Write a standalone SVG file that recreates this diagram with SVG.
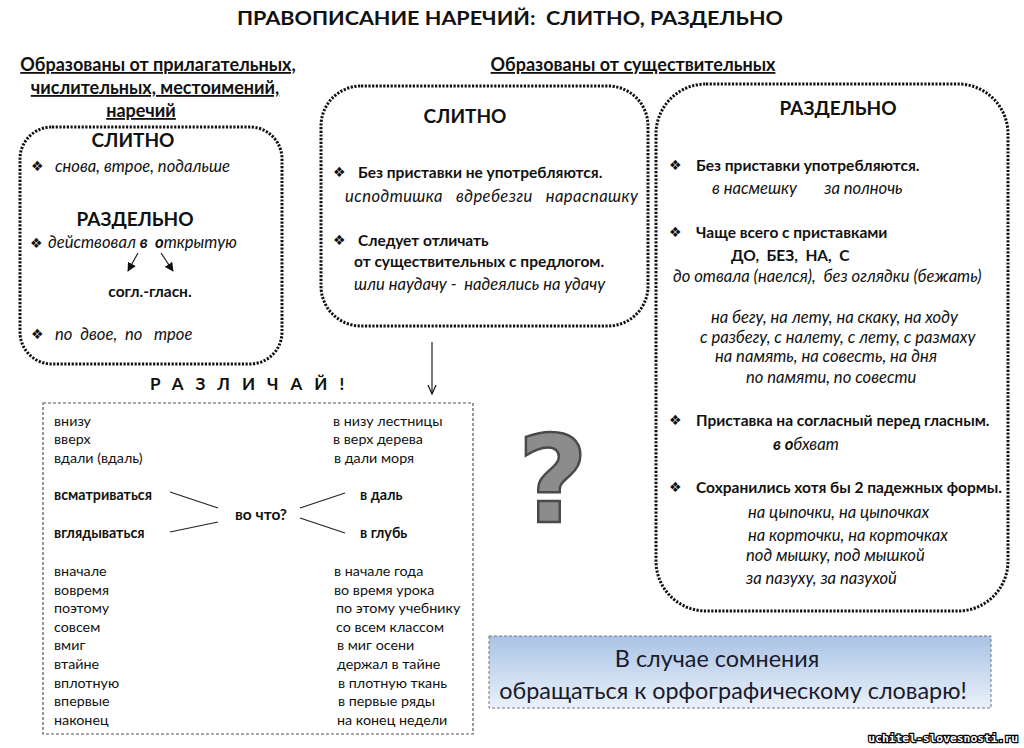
<svg xmlns="http://www.w3.org/2000/svg" width="1024" height="748" viewBox="0 0 1024 748" xml:space="preserve">
<defs>
<style>
text{font-family:Lato,"Noto Sans","DejaVu Sans",sans-serif;fill:#111;white-space:pre}
.b{font-weight:bold}
.i{font-style:italic}
.h{font-size:18px;font-weight:bold;text-decoration:underline}
.t{font-size:19px;font-weight:bold}
.r{font-size:15.5px;font-weight:bold}
.e{font-size:16.6px;font-style:italic}
.s{font-size:14.3px}
.bul{font-family:"DejaVu Sans",sans-serif;font-size:14px}
.dot{fill:none;stroke:#111;stroke-width:3;stroke-dasharray:2.2 1.5}
.ln{stroke:#222;stroke-width:1.2;fill:none}
</style>
<linearGradient id="bg" x1="0" y1="0" x2="0" y2="1">
<stop offset="0" stop-color="#a9c3e6"/>
<stop offset="1" stop-color="#eaf1fa"/>
</linearGradient>
<marker id="ah" viewBox="0 0 10 10" refX="9" refY="5" markerWidth="9" markerHeight="9" orient="auto" markerUnits="userSpaceOnUse">
<path d="M0,0 L10,5 L0,10 z" fill="#111"/>
</marker>
<marker id="oa" viewBox="0 0 10 10" refX="9" refY="5" markerWidth="10" markerHeight="10" orient="auto" markerUnits="userSpaceOnUse">
<path d="M0,1 L9,5 L0,9" fill="none" stroke="#111" stroke-width="1.2"/>
</marker>
</defs>
<rect width="1024" height="748" fill="#fff"/>

<g id="title">
<text x="510" y="25" text-anchor="middle" class="t" textLength="546" lengthAdjust="spacingAndGlyphs">ПРАВОПИСАНИЕ НАРЕЧИЙ:  СЛИТНО, РАЗДЕЛЬНО</text>
</g>

<g id="header-left">
<text x="158" y="71" text-anchor="middle" class="h">Образованы от прилагательных,</text>
<text x="155" y="94" text-anchor="middle" class="h">числительных, местоимений,</text>
<text x="141" y="117" text-anchor="middle" class="h">наречий</text>
</g>

<g id="header-mid">
<text x="633" y="71" text-anchor="middle" class="h">Образованы от существительных</text>
</g>

<g id="box-left">
<rect x="20" y="127" width="262" height="237" rx="32" class="dot"/>
<text x="133" y="147" text-anchor="middle" class="t">СЛИТНО</text>
<text x="31" y="171" class="bul">❖</text>
<text x="55" y="172" class="e">снова, втрое, подальше</text>
<text x="135" y="226" text-anchor="middle" class="t">РАЗДЕЛЬНО</text>
<text x="30" y="248" class="bul">❖</text>
<text x="48" y="248" class="e">действовал <tspan class="b">в  о</tspan>ткрытую</text>
<text x="150" y="297" text-anchor="middle" class="r">согл.-гласн.</text>
<text x="31" y="339" class="bul">❖</text>
<text x="55" y="340" class="e">по  двое,  по   трое</text>
</g>

<g id="box-mid">
<rect x="321" y="86" width="327" height="240" rx="40" class="dot"/>
<text x="465" y="123" text-anchor="middle" class="t">СЛИТНО</text>
<text x="333" y="177" class="bul">❖</text>
<text x="358" y="178" class="r">Без приставки не употребляются.</text>
<text x="345" y="202" class="e" textLength="293">исподтишка   вдребезги   нараспашку</text>
<text x="333" y="245" class="bul">❖</text>
<text x="358" y="246" class="r">Следует отличать</text>
<text x="354" y="267" class="r">от существительных с предлогом.</text>
<text x="354" y="290" class="e">шли наудачу -  надеялись на удачу</text>
</g>

<g id="box-right">
<rect x="656" y="84" width="352" height="527" rx="50" class="dot"/>
<text x="838" y="115" text-anchor="middle" class="t">РАЗДЕЛЬНО</text>
<text x="669" y="170" class="bul">❖</text>
<text x="696" y="171" class="r">Без приставки употребляются.</text>
<text x="712" y="194" class="e">в насмешку       за полночь</text>
<text x="669" y="237" class="bul">❖</text>
<text x="696" y="238" class="r">Чаще всего с приставками</text>
<text x="731" y="261" class="r">ДО,  БЕЗ,  НА,  С</text>
<text x="673" y="282" class="e">до отвала (наелся),  без оглядки (бежать)</text>
<text x="711" y="323" class="e">на бегу, на лету, на скаку, на ходу</text>
<text x="700" y="343" class="e">с разбегу, с налету, с лету, с размаху</text>
<text x="715" y="362" class="e">на память, на совесть, на дня</text>
<text x="746" y="383" class="e">по памяти, по совести</text>
<text x="669" y="425" class="bul">❖</text>
<text x="696" y="426" class="r">Приставка на согласный перед гласным.</text>
<text x="773" y="450" class="e"><tspan class="b">в о</tspan>бхват</text>
<text x="669" y="492" class="bul">❖</text>
<text x="696" y="493" class="r">Сохранились хотя бы 2 падежных формы.</text>
<text x="748" y="518" class="e">на цыпочки, на цыпочках</text>
<text x="748" y="541" class="e">на корточки, на корточках</text>
<text x="746" y="561" class="e">под мышку, под мышкой</text>
<text x="746" y="584" class="e">за пазуху, за пазухой</text>
</g>

<g id="razlichai">
<text x="150" y="390" class="b" style="font-size:17px;letter-spacing:12px">РАЗЛИЧАЙ!</text>
</g>

<g id="table">
<rect x="43" y="403" width="430" height="331" fill="none" stroke="#555" stroke-width="1.2" stroke-dasharray="3 2"/>
<text x="54" y="426" class="s">внизу</text>
<text x="54" y="444" class="s">вверх</text>
<text x="54" y="463" class="s">вдали (вдаль)</text>
<text x="54" y="500" class="s b">всматриваться</text>
<text x="54" y="538" class="s b">вглядываться</text>
<text x="54" y="576" class="s">вначале</text>
<text x="54" y="595" class="s">вовремя</text>
<text x="54" y="613" class="s">поэтому</text>
<text x="54" y="632" class="s">совсем</text>
<text x="54" y="650" class="s">вмиг</text>
<text x="54" y="669" class="s">втайне</text>
<text x="54" y="688" class="s">вплотную</text>
<text x="54" y="706" class="s">впервые</text>
<text x="54" y="725" class="s">наконец</text>
<text x="333" y="426" class="s">в низу лестницы</text>
<text x="333" y="444" class="s">в верх дерева</text>
<text x="334" y="463" class="s">в дали моря</text>
<text x="360" y="500" class="s b">в даль</text>
<text x="360" y="538" class="s b">в глубь</text>
<text x="334" y="576" class="s">в начале года</text>
<text x="334" y="595" class="s">во время урока</text>
<text x="336" y="613" class="s">по этому учебнику</text>
<text x="336" y="632" class="s">со всем классом</text>
<text x="337" y="650" class="s">в миг осени</text>
<text x="337" y="669" class="s">держал в тайне</text>
<text x="338" y="688" class="s">в плотную ткань</text>
<text x="338" y="706" class="s">в первые ряды</text>
<text x="337" y="725" class="s">на конец недели</text>
<text x="261" y="520" text-anchor="middle" class="b" style="font-size:15.5px">во что?</text>
</g>

<g id="question">
<text x="553" y="522" text-anchor="middle" style="font-family:'DejaVu Sans',sans-serif;font-size:122px;font-weight:bold;fill:#8c8c8c;stroke:#4a4a4a;stroke-width:2.5">?</text>
</g>

<g id="note">
<rect x="489" y="636" width="502" height="72" fill="url(#bg)" stroke="#777" stroke-width="1" stroke-dasharray="3 2"/>
<text x="717" y="667" text-anchor="middle" style="font-size:23.4px;fill:#1a1a2a">В случае сомнения</text>
<text x="733" y="699" text-anchor="middle" style="font-size:23.4px;fill:#1a1a2a">обращаться к орфографическому словарю!</text>
</g>

<g id="watermark">
<text x="1018" y="742" text-anchor="end" style="font-family:'DejaVu Sans Mono',monospace;font-size:11.3px;font-weight:bold;fill:#fff;stroke:#000;stroke-width:2.5;paint-order:stroke">uchitel-slovesnosti.ru</text>
</g>

<g id="connectors">
<line x1="138" y1="253" x2="128" y2="271" class="ln" stroke-width="2" marker-end="url(#ah)"/>
<line x1="161" y1="253" x2="173" y2="271" class="ln" stroke-width="2" marker-end="url(#ah)"/>
<line x1="432" y1="342" x2="432" y2="394" class="ln" marker-end="url(#oa)"/>
<line x1="170" y1="492" x2="218" y2="508" class="ln"/>
<line x1="170" y1="532" x2="218" y2="522" class="ln"/>
<line x1="300" y1="508" x2="345" y2="493" class="ln"/>
<line x1="300" y1="518" x2="345" y2="533" class="ln"/>
</g>
</svg>
